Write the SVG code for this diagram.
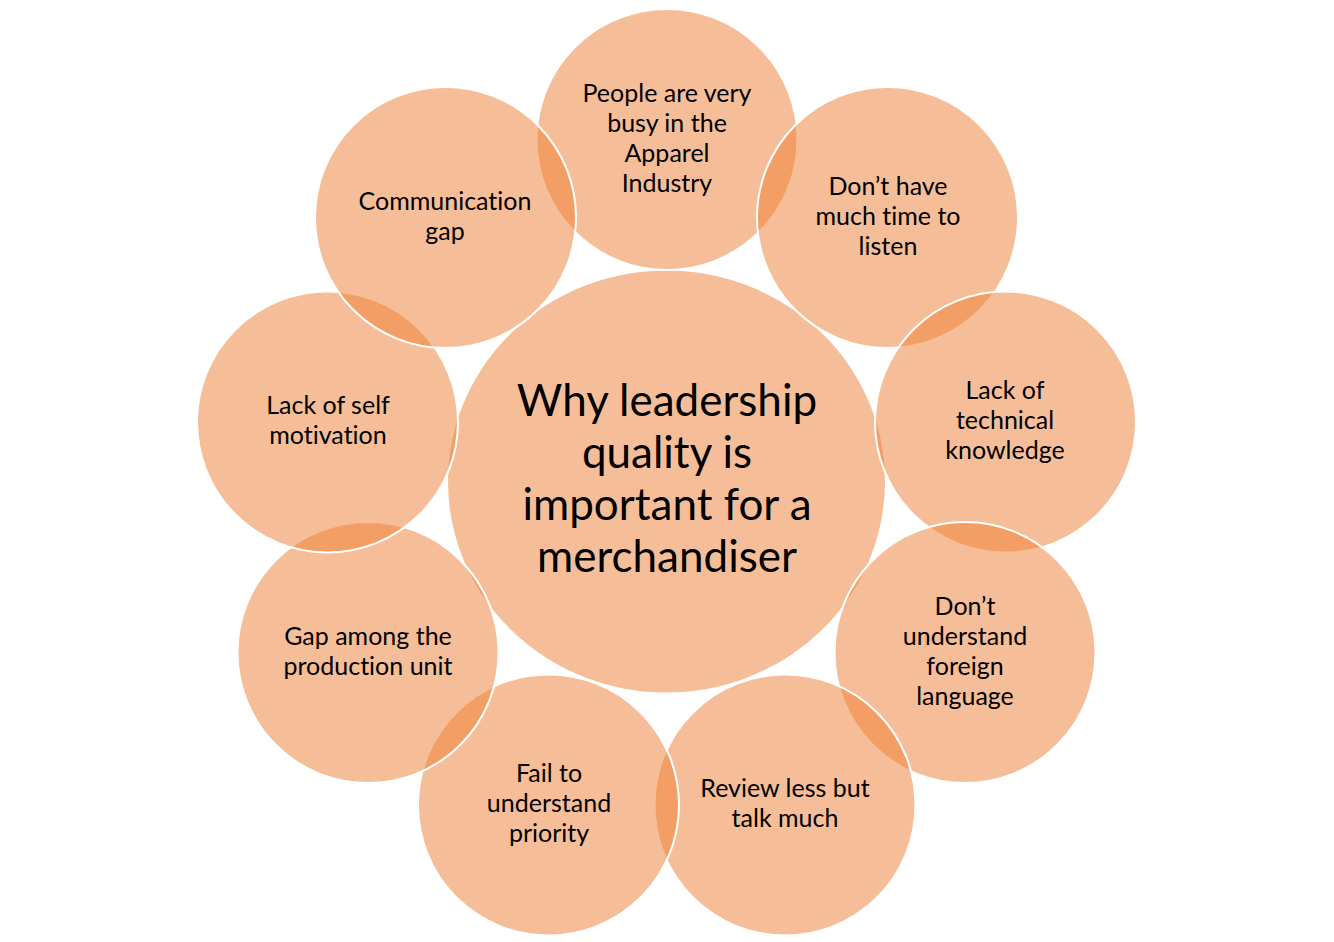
<svg xmlns="http://www.w3.org/2000/svg" width="1334" height="942" viewBox="0 0 1334 942">
<style>
.c{fill:#ED7D31;fill-opacity:0.5;stroke:#FFFFFF;stroke-width:2}
.t,.m{font-family:Lato,"Liberation Sans",sans-serif;fill:#000;text-anchor:middle;font-variant-ligatures:none;font-feature-settings:"liga" 0,"clig" 0,"dlig" 0}
.t{font-size:25px}
.m{font-size:44px}
</style>
<rect width="1334" height="942" fill="#FFFFFF"/>
<g id="center">
<ellipse class="c" cx="666.5" cy="481.5" rx="219.5" ry="212"/>
<text class="m"><tspan x="667" y="416">Why leadership</tspan><tspan x="667" y="468">quality is</tspan><tspan x="667" y="520">important for a</tspan><tspan x="667" y="572">merchandiser</tspan></text>
</g>
<g id="n1">
<circle class="c" cx="667" cy="139.5" r="130.5"/>
<text class="t"><tspan x="667" y="102">People are very</tspan><tspan x="667" y="132">busy in the</tspan><tspan x="667" y="162">Apparel</tspan><tspan x="667" y="192">Industry</tspan></text>
</g>
<g id="n2">
<circle class="c" cx="887.5" cy="217.5" r="130.5"/>
<text class="t"><tspan x="888" y="195">Don’t have</tspan><tspan x="888" y="225">much time to</tspan><tspan x="888" y="255">listen</tspan></text>
</g>
<g id="n3">
<circle class="c" cx="1005.5" cy="422" r="130.5"/>
<text class="t"><tspan x="1005" y="399">Lack of</tspan><tspan x="1005" y="429">technical</tspan><tspan x="1005" y="459">knowledge</tspan></text>
</g>
<g id="n4">
<circle class="c" cx="965" cy="652.5" r="130.5"/>
<text class="t"><tspan x="965" y="615">Don’t</tspan><tspan x="965" y="645">understand</tspan><tspan x="965" y="675">foreign</tspan><tspan x="965" y="705">language</tspan></text>
</g>
<g id="n5">
<circle class="c" cx="785" cy="805" r="130.5"/>
<text class="t"><tspan x="785" y="797">Review less but</tspan><tspan x="785" y="827">talk much</tspan></text>
</g>
<g id="n6">
<circle class="c" cx="548.5" cy="805" r="130.5"/>
<text class="t"><tspan x="549" y="782">Fail to</tspan><tspan x="549" y="812">understand</tspan><tspan x="549" y="842">priority</tspan></text>
</g>
<g id="n7">
<circle class="c" cx="368" cy="652.5" r="130.5"/>
<text class="t"><tspan x="368" y="645">Gap among the</tspan><tspan x="368" y="675">production unit</tspan></text>
</g>
<g id="n8">
<circle class="c" cx="327.5" cy="422" r="130.5"/>
<text class="t"><tspan x="328" y="414">Lack of self</tspan><tspan x="328" y="444">motivation</tspan></text>
</g>
<g id="n9">
<circle class="c" cx="445.5" cy="217.5" r="130.5"/>
<text class="t"><tspan x="445" y="210">Communication</tspan><tspan x="445" y="240">gap</tspan></text>
</g>
<g id="connectors"></g>
</svg>
